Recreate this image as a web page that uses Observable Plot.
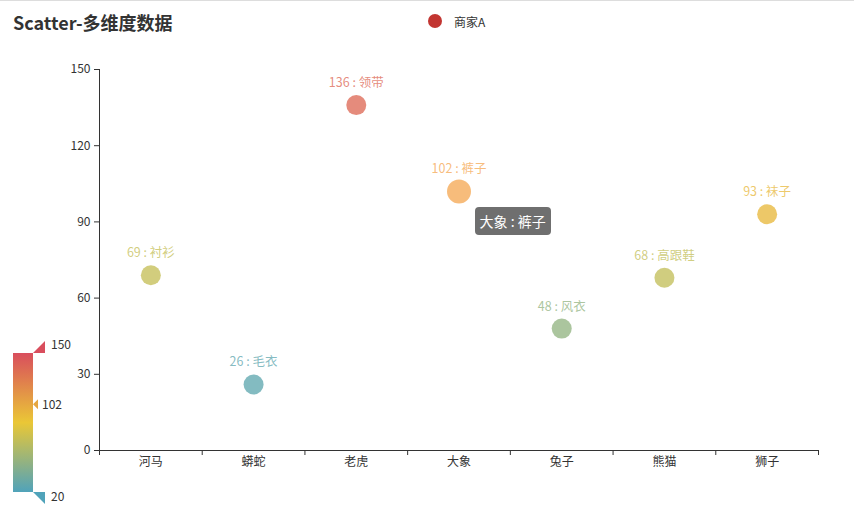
<!DOCTYPE html>
<html><head><meta charset="utf-8">
<script src="https://cdn.jsdelivr.net/npm/d3@7"></script>
<script src="https://cdn.jsdelivr.net/npm/@observablehq/plot@0.6"></script>
<style>
body{margin:0;background:#fff;font-family:"Noto Sans CJK SC","Microsoft YaHei",sans-serif;}
#wrap{position:relative;width:854px;height:519px;overflow:hidden;}
#topline{position:absolute;left:0;top:0;width:854px;height:1px;background:#ddd;}
#title{position:absolute;left:13px;top:9px;font-size:18px;font-weight:bold;color:#333;white-space:nowrap;}
#legend{position:absolute;left:428px;top:12px;height:18px;display:flex;align-items:center;font-size:12px;color:#333;}
#legend .dot{width:14px;height:14px;border-radius:50%;background:#c23531;margin-right:12px;}
#tip{position:absolute;background:rgba(50,50,50,0.7);color:#fff;font-size:14px;border-radius:4px;padding:4px 5px;white-space:nowrap;line-height:20px;}
svg.overlay{position:absolute;left:0;top:0;pointer-events:none;}
</style></head><body><div id="wrap"><div id="topline"></div></div>
<script>
const categories = ["河马","蟒蛇","老虎","大象","兔子","熊猫","狮子"];
const values = [69,26,136,102,48,68,93];
const products = ["衬衫","毛衣","领带","裤子","风衣","高跟鞋","袜子"];
const yTicks = [0,30,60,90,120,150];
const colorStops = ["#50a3ba","#eac736","#d94e5d"];
const colorDomain = [20,150];
const seriesName = "商家A";
const titleText = "Scatter-多维度数据";
const highlighted = "大象";

const colorScale = Plot.scale({color:{type:"linear", domain:[colorDomain[0],(colorDomain[0]+colorDomain[1])/2,colorDomain[1]], range:colorStops, interpolate:"rgb"}});
const data = categories.map((c,i)=>({cat:c, x:i+0.5, v:values[i], p:products[i], hi:c===highlighted}));
const fillOf = d => d.hi ? d3.interpolateRgb(colorScale.apply(d.v), "#ffa860")(0.6) : colorScale.apply(d.v);
const font = '"Noto Sans CJK SC","Microsoft YaHei",sans-serif';

const plot = Plot.plot({
  width:854, height:519,
  marginLeft:99, marginRight:36, marginTop:69, marginBottom:69,
  style:{fontFamily:font, fontSize:"12px", color:"#333", background:"transparent"},
  x:{type:"linear", domain:[0,categories.length], axis:null},
  y:{domain:[0,150], axis:null},
  color:{type:"identity"},
  r:{type:"identity"},
  marks:[
    Plot.axisY({ticks:yTicks, tickSize:5, tickPadding:4, stroke:"#333", fill:"#333", label:null}),
    Plot.axisX({ticks:d3.range(0,categories.length+1), tickSize:5, tickFormat:()=>"", stroke:"#333", label:null}),
    Plot.axisX({ticks:data.map(d=>d.x), tickSize:0, tickPadding:7, fill:"#333", label:null, tickFormat:d=>categories[Math.floor(d)]}),
    Plot.ruleX([0],{stroke:"#333"}),
    Plot.ruleY([0],{stroke:"#333"}),
    Plot.dot(data,{x:"x", y:"v", r:d=>d.hi?12:10, fill:fillOf, fillOpacity:0.77, stroke:null}),
    Plot.text(data,{x:"x", y:"v", text:d=>`${d.v} : ${d.p}`, fill:fillOf, fillOpacity:0.77, dy:-22, fontSize:12.5})
  ]
});
const wrap = document.getElementById("wrap");
plot.style.position="absolute"; plot.style.left="0"; plot.style.top="0";
wrap.appendChild(plot);

// title & legend
const t = document.createElement("div"); t.id="title"; t.textContent=titleText; wrap.appendChild(t);
const lg = document.createElement("div"); lg.id="legend";
lg.innerHTML = `<div class="dot"></div><span>${seriesName}</span>`; wrap.appendChild(lg);

// tooltip near highlighted point
const hp = data.find(d=>d.hi);
const px = plot.scale("x").apply(hp.x), py = plot.scale("y").apply(hp.v);
const tip = document.createElement("div"); tip.id="tip";
tip.textContent = `${hp.cat} : ${hp.p}`;
tip.style.left = (px+16)+"px"; tip.style.top = (py+16)+"px";
wrap.appendChild(tip);

// visualMap
const vm = {x:13, y:353, w:20, h:139};
const vy = d3.scaleLinear().domain([colorDomain[1],colorDomain[0]]).range([vm.y, vm.y+vm.h]);
const svg = d3.select(wrap).append("svg").attr("class","overlay").attr("width",854).attr("height",519)
  .style("font-family",font).style("font-size","12px");
const grad = svg.append("defs").append("linearGradient").attr("id","vmg").attr("x1",0).attr("y1",0).attr("x2",0).attr("y2",1);
d3.range(0,11).forEach(k=>{
  const v = colorDomain[1] - k*(colorDomain[1]-colorDomain[0])/10;
  grad.append("stop").attr("offset",k/10).attr("stop-color",colorScale.apply(v));
});
svg.append("rect").attr("x",vm.x).attr("y",vm.y).attr("width",vm.w).attr("height",vm.h).attr("fill","url(#vmg)");
const rx = vm.x+vm.w;
svg.append("path").attr("d",`M${rx},${vy(colorDomain[1])}L${rx+12},${vy(colorDomain[1])}L${rx+12},${vy(colorDomain[1])-12}Z`).attr("fill",colorScale.apply(colorDomain[1]));
svg.append("path").attr("d",`M${rx},${vy(colorDomain[0])}L${rx+12},${vy(colorDomain[0])}L${rx+12},${vy(colorDomain[0])+12}Z`).attr("fill",colorScale.apply(colorDomain[0]));
svg.append("text").attr("x",rx+18).attr("y",vy(colorDomain[1])-8).attr("dy","0.35em").attr("fill","#333").text(colorDomain[1]);
svg.append("text").attr("x",rx+18).attr("y",vy(colorDomain[0])+5).attr("dy","0.35em").attr("fill","#333").text(colorDomain[0]);
const iy = vy(hp.v);
svg.append("path").attr("d",`M${rx},${iy}L${rx+5},${iy-5}L${rx+5},${iy+5}Z`).attr("fill",colorScale.apply(hp.v));
svg.append("text").attr("x",rx+9).attr("y",iy).attr("dy","0.35em").attr("fill","#333").text(hp.v);
</script></body></html>
